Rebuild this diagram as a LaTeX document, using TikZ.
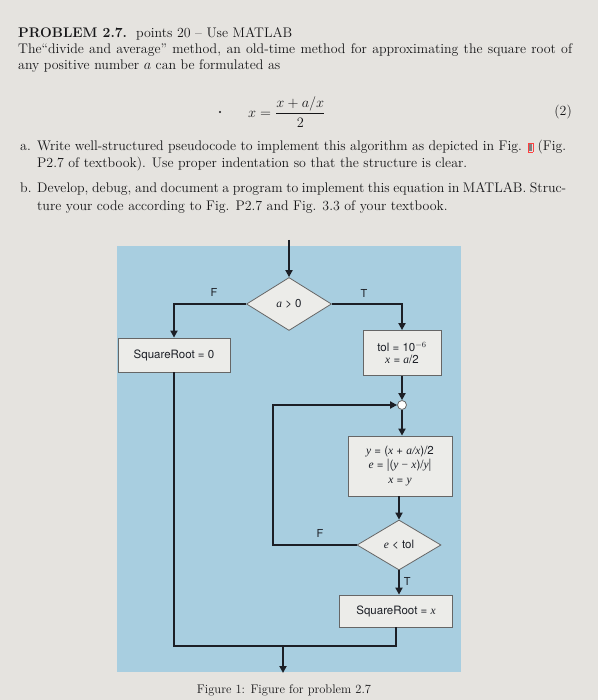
\documentclass[tikz,border=0pt]{standalone}
\usepackage{amsmath, amssymb}
\usepackage{fontspec}
\newfontfamily\chartfont{TeX Gyre Heros}
\newfontfamily\chartserif{Liberation Serif}
\newcommand{\cvar}[1]{{\chartserif\itshape #1}}
\newcommand{\cbar}{{\chartserif\fontsize{13.5}{13.5}\selectfont |}}
\usepackage{xcolor}
\usepackage{tikz}
\usetikzlibrary{arrows.meta, positioning, calc, shapes.geometric}
\definecolor{pagegray}{RGB}{229, 227, 223}
\definecolor{inkgray}{RGB}{22, 22, 24}
\definecolor{chartblue}{RGB}{168, 206, 224}
\definecolor{boxgray}{RGB}{236, 236, 233}
\definecolor{flowline}{RGB}{28, 31, 38}

\begin{document}
\begin{tikzpicture}[x=1pt, y=-1pt, font=\fontsize{13.9}{16}\selectfont, text=inkgray,
  textline/.style={anchor=base west, inner sep=0pt},
  flowbox/.style={rectangle, draw=gray!80!black, line width=0.8pt, fill=boxgray, inner sep=2pt, font=\chartfont\fontsize{11.5}{13.5}\selectfont, text=flowline, align=center},
  decision/.style={diamond, draw=gray!80!black, line width=0.8pt, fill=boxgray, inner sep=0pt, font=\chartfont\fontsize{11.5}{13.5}\selectfont, text=flowline},
  flowarrow/.style={draw=flowline, line width=2.2pt, -{Triangle[length=7pt, width=7pt]}},
  flowpath/.style={draw=flowline, line width=2.2pt},
  flowlabel/.style={font=\chartfont\fontsize{11}{13}\selectfont, text=flowline, inner sep=1pt}]
  \fill[pagegray] (0,0) rectangle (598,700);
  \useasboundingbox (0,0) rectangle (598,700);

  % problem text
  \node[textline] (headLine) at (18,38) {\textbf{PROBLEM 2.7.}\ \ points 20 -- Use MATLAB};
  \node[textline] (introA) at (18,54) {\makebox[554pt][s]{The``divide and average'' method, an old-time method for approximating the square root of}};
  \node[textline] (introB) at (18,70) {any positive number $a$ can be formulated as};
  \node[circle, fill=inkgray, inner sep=0pt, minimum size=2.2pt] (eqDot) at (220,112) {};
  \node[anchor=west, inner sep=0pt] (eqMain) at (248,112) {$x = \dfrac{x + a/x}{2}$};
  \node[anchor=east, inner sep=0pt] (eqTag) at (572,112) {(2)};
  \node[textline] (itemA) at (20,151) {a.};
  \node[textline] (itemAone) at (37,151) {\makebox[529pt][s]{Write well-structured pseudocode to implement this algorithm as depicted in Fig. {\setlength\fboxsep{0.8pt}\fcolorbox{red!75}{pagegray}{\textcolor{gray}{\rule{3pt}{7pt}}}} (Fig.}};
  \node[textline] (itemAtwo) at (37,168) {P2.7 of textbook). Use proper indentation so that the structure is clear.};
  \node[textline] (itemB) at (20,193) {b.};
  \node[textline] (itemBone) at (37,193) {\makebox[529pt][s]{Develop, debug, and document a program to implement this equation in MATLAB. Struc-}};
  \node[textline] (itemBtwo) at (37,211) {ture your code according to Fig. P2.7 and Fig. 3.3 of your textbook.};

  % flowchart
  \fill[chartblue] (117,246) rectangle (461,672);
  \coordinate (entry) at (289,240);
  \node[decision, minimum width=85pt, minimum height=53pt] (aTest) at (289,304) {\cvar{a} > 0};
  \node[flowbox, minimum width=112pt, minimum height=34pt] (zeroBox) at (174,355) {SquareRoot = 0};
  \node[flowbox, minimum width=78pt, minimum height=45pt] (tolBox) at (402,353) {tol = 10$^{-6}$\\[-1pt]\cvar{x} = \cvar{a}/2};
  \node[circle, draw=gray!80!black, line width=0.8pt, fill=white, minimum size=9pt, inner sep=0pt] (joint) at (402,405) {};
  \node[flowbox, minimum width=104pt, minimum height=60pt] (iterBox) at (400,466) {\cvar{y} = (\cvar{x} + \cvar{a/x})/2\\[1pt]\cvar{e} = \cbar(\cvar{y} {\chartserif −} \cvar{x})/\cvar{y}\cbar\\[1pt]\cvar{x} = \cvar{y}};
  \node[decision, minimum width=84pt, minimum height=50pt] (eTest) at (399,545) {\cvar{e} < tol};
  \node[flowbox, minimum width=113pt, minimum height=32pt] (rootBox) at (396,611) {SquareRoot = \cvar{x}};
  \coordinate (merge) at (283,646);
  \coordinate (exit) at (283,673);
  \coordinate (loopCorner) at (273,545);

  \draw[flowarrow] (entry) -- (aTest.north);
  \draw[flowarrow] (aTest.west) -| (zeroBox.north);
  \draw[flowarrow] (aTest.east) -| (tolBox.north);
  \node[flowlabel] (aFalse) at (214,292) {F};
  \node[flowlabel] (aTrue) at (364,293) {T};
  \draw[flowarrow] (tolBox.south) -- (joint.north);
  \draw[flowarrow] (joint.south) -- (joint.south |- iterBox.north);
  \draw[flowarrow] (eTest.north |- iterBox.south) -- (eTest.north);
  \draw[flowarrow] (eTest.west) -- (loopCorner) |- (joint.west);
  \node[flowlabel] (eFalse) at (320,533) {F};
  \draw[flowarrow] (eTest.south) -- (eTest.south |- rootBox.north);
  \node[flowlabel, right=5pt of $(eTest.south)!0.45!(rootBox.north)$] (eTrue) {T};
  \draw[flowpath] (zeroBox.south) |- (merge);
  \draw[flowpath] (rootBox.south) |- (merge);
  \draw[flowarrow] (merge) -- (exit);

  \node[inner sep=0pt, font=\fontsize{12.5}{15}\selectfont] (caption) at (284,690) {Figure 1: Figure for problem 2.7};
\end{tikzpicture}
\end{document}
